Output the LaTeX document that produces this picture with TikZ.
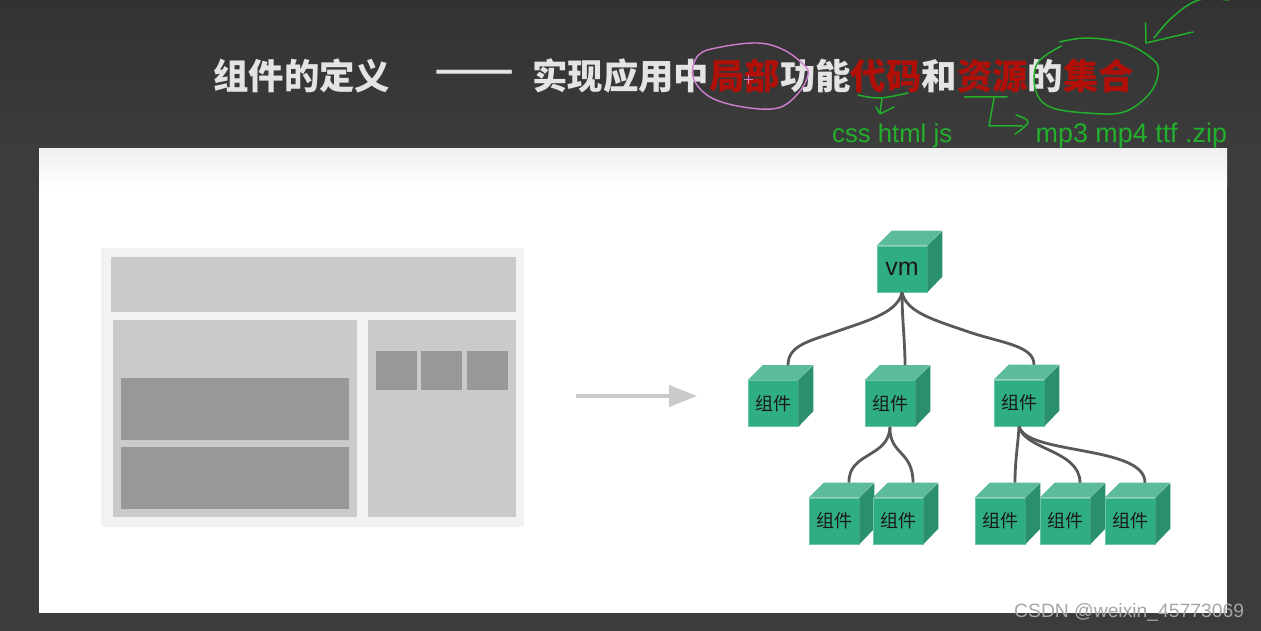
\documentclass[tikz,border=0pt]{standalone}
\usepackage{graphicx}
\usepackage{fontspec}
\setmainfont{Noto Sans CJK SC}
\newfontfamily\latinfont{Liberation Sans}
\usetikzlibrary{arrows.meta,calc}
\definecolor{bgdark}{HTML}{3C3C3C}
\definecolor{bgtop}{HTML}{323232}
\definecolor{paneblue}{HTML}{CACACA}
\definecolor{panedark}{HTML}{989898}
\definecolor{cubefront}{HTML}{30AE83}
\definecolor{cubetop}{HTML}{5CBB9A}
\definecolor{cubeside}{HTML}{2A8F6E}
\definecolor{titlegray}{HTML}{E4E4E4}
\definecolor{titlered}{HTML}{B01008}
\definecolor{inkgreen}{HTML}{22B02C}
\definecolor{inkpink}{HTML}{CF7FD0}
\tikzstyle{pane}=   [fill=paneblue,draw=none]
\tikzstyle{block}=  [fill=panedark,draw=none]
\tikzstyle{cube}=   [fill=cubefront,draw=cubefront!70!white,line width=0.6pt,
minimum width=50pt,
minimum height=46pt,
inner sep=0,
font=\fontsize{18}{19}\selectfont,
text=black!90,
]
\tikzstyle{branch}= [draw=black!65,line width=2.8pt]
\tikzstyle{title}=  [inner sep=0,anchor=west,text=titlegray,font=\fontsize{35.4}{36}\selectfont\bfseries]
\tikzstyle{ink}=    [draw=inkgreen,line width=1.5pt,line join=round,line cap=round]
\tikzstyle{inktext}=[inner sep=0,anchor=base west,text=inkgreen]
\begin{document}
\begin{tikzpicture}[x=1pt,y=-1pt]
        \useasboundingbox (0,0) rectangle (1261,631);
        \shade[top color=bgtop,bottom color=bgdark] (0,0) rectangle (1261,149);
        \fill[bgdark] (0,149) rectangle (1261,631);
        \fill[white] (39,149) rectangle (1227,613);
        \shade[top color=black!6,bottom color=white] (39,149) rectangle (1227,188);

        % title
        \node[title] (def) at (213,76) {组件的定义};
        \node[title] (dash) at (434,76) {\scalebox{1.32}[1]{——}};
        \node[title] (defbody) at (532,76) {实现应用中\textcolor{titlered}{局部}功能\textcolor{titlered}{代码}和\textcolor{titlered}{资源}的\textcolor{titlered}{集合}};

        % page sketch
        \fill[black!5] (101,248) rectangle (524,527);
        \fill[pane] (111,257) rectangle (515.5,312);
        \fill[pane] (112.5,319.5) rectangle (357,517);
        \fill[pane] (367.5,320) rectangle (515.5,517);
        \fill[block] (120.5,378) rectangle (349,440);
        \fill[block] (120.5,447) rectangle (349,509);
        \foreach \x in {375.5,421,466.5}
            \fill[block] (\x,351) rectangle ++(41,39);

        \coordinate (from) at (575.5,396);
        \coordinate (to) at (697,396);
        \draw[-{Triangle[length=28pt,width=21pt]},draw=paneblue,fill=paneblue,line width=4.5pt] (from) -- (to);

        % cubes
        \foreach \name/\x/\y/\txt in {vm/902/269/{\latinfont\fontsize{25}{26}\selectfont vm},
            left/773/403.5/组件,mid/890/403.5/组件,right/1019/403/组件,
            leafa/834/521/组件,leafb/898/521/组件,leafc/1000/521/组件,leafd/1065/521/组件,leafe/1130/521/组件}{
            \node[cube] (\name) at (\x,\y) {\txt};
            \fill[cubetop] (\name.north west) -- ++(15,-15) -- ++(50,0) -- (\name.north east) -- cycle;
            \fill[cubeside] (\name.north east) -- ++(15,-15) -- ++(0,46) -- (\name.south east) -- cycle;
            \coordinate (\name top) at ($(\name.north)+(15,-15)$);
        }

        \path[branch] (vm.south) .. controls (898,312) and (870,320) .. (838,331) .. controls (810,341) and (788,345) .. (lefttop);
        \path[branch] (vm.south) .. controls (902,320) and (905,340) .. (midtop);
        \path[branch] (vm.south) .. controls (906,312) and (934,320) .. (966,331) .. controls (1000,343) and (1034,345) .. (righttop);
        \path[branch] (mid.south) .. controls (889,458) and (848,452) .. (leafatop);
        \path[branch] (mid.south) .. controls (889,455) and (913,450) .. (leafbtop);
        \path[branch] (right.south) .. controls (1018,445) and (1015,460) .. (leafctop);
        \path[branch] (right.south) .. controls (1024,450) and (1080,450) .. (leafdtop);
        \path[branch] (right.south) .. controls (1026,455) and (1145,445) .. (leafetop);

        % marks over the title
        \draw[draw=inkpink,line width=1.4pt] plot[smooth cycle,tension=0.6] coordinates {(693,77) (698.5,55) (721,47) (758,43) (784,50) (804,65) (808,75) (798.5,93) (778,108) (743,107) (710,97)};
        \draw[draw=inkpink,line width=1pt] (744,80) -- (753,80) (748.5,75.5) -- (748.5,84.5);
        \draw[ink] plot[smooth,tension=0.6] coordinates {(1059.6,42) (1087,38) (1124,43) (1150,57) (1158.5,70) (1150,93) (1124,112) (1087,113) (1050,107) (1035.5,90) (1037.5,63) (1061.5,46)};
        \draw[ink] plot[smooth,tension=0.6] coordinates {(1228,0) (1198.5,0) (1172.6,17) (1154,38)};
        \draw[ink] (1145.6,23) -- (1146,43) -- (1193,32);
        \draw[ink] plot[smooth,tension=0.6] coordinates {(858,95) (880,98) (908,93)};
        \draw[ink] (882,98) -- (880,113) (876,107) -- (880,114) -- (894,107);
        \draw[ink] (964.5,97) -- (1007,97) (994,98) -- (989,126) -- (1022.6,126);
        \draw[ink] plot[smooth,tension=0.7] coordinates {(1016,115) (1028,122) (1015,134)};
        \node[inktext,font=\fontsize{25.7}{26}\selectfont\latinfont] (web) at (832,143) {css html js};
        \node[inktext,font=\fontsize{26.9}{27}\selectfont\latinfont] (assets) at (1035.5,143) {mp3 mp4 ttf .zip};

        \node[inner sep=0,anchor=west,text=black!35,font=\fontsize{19.3}{20}\selectfont\latinfont] (mark) at (1014,612) {CSDN @weixin\_45773069};
    \end{tikzpicture}
\end{document}
